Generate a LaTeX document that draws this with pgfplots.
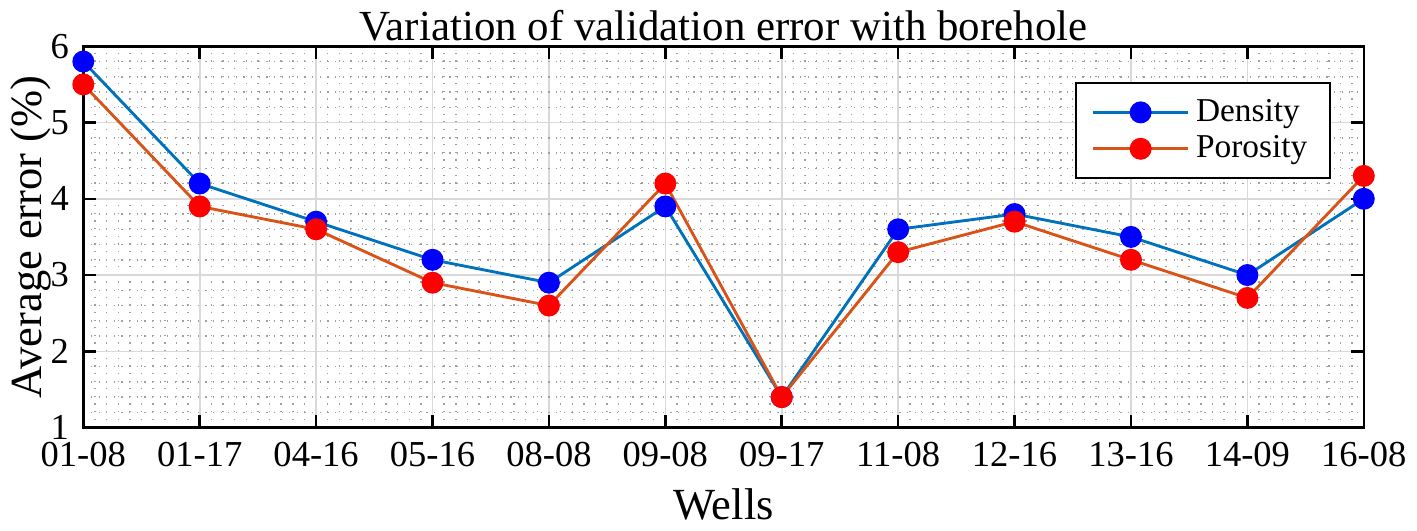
\documentclass[border=0pt]{standalone}
\usepackage{fontspec}
\setmainfont{Liberation Serif}
\usepackage{pgfplots}
\pgfplotsset{compat=1.18}

\definecolor{mblue}{rgb}{0,0.447,0.741}
\definecolor{morange}{rgb}{0.85,0.325,0.098}

\begin{document}
\begin{tikzpicture}
\begin{axis}[
    scale only axis,
    width=403pt, height=120pt,
    xmin=0, xmax=11, ymin=1, ymax=6,
    xtick={0,...,11},
    xticklabels={01-08,01-17,04-16,05-16,08-08,09-08,09-17,11-08,12-16,13-16,14-09,16-08},
    ytick={1,2,3,4,5,6},
    minor x tick num=9,
    minor y tick num=4,
    tick align=inside,
    tick pos=both,
    major tick length=4pt,
    minor tick length=0pt,
    axis line style={line width=0.8pt, black},
    every tick/.style={black, line width=0.8pt},
    grid=both,
    major grid style={gray!30, line width=0.5pt},
    minor grid style={gray!75, dotted, line width=0.45pt},
    tick label style={font=\fontsize{11.5}{12}\selectfont},
    xticklabel style={yshift=-1pt},
    yticklabel style={xshift=-1pt},
    /pgf/number format/assume math mode=true,
    title={Variation of validation error with borehole},
    title style={font=\fontsize{13.5}{14}\selectfont, yshift=-8pt},
    xlabel={Wells},
    ylabel={Average error (\%)},
    label style={font=\fontsize{14}{15}\selectfont},
    xlabel style={yshift=0pt},
    ylabel style={yshift=-7pt},
    legend style={at={(0.974,0.906)}, anchor=north east,
        font=\fontsize{10.5}{12}\selectfont, draw=black, line width=0.6pt,
        row sep=-1pt, inner xsep=5pt, inner ysep=3pt},
    legend image code/.code={
        \draw[#1, mark repeat=2, mark phase=2] plot coordinates {(0pt,0pt) (15pt,0pt) (30pt,0pt)};
    },
    legend cell align=left,
]
\addplot[mblue, line width=0.9pt, mark=*, mark size=3pt,
    mark options={fill=blue, draw=blue}] coordinates {
    (0,5.8) (1,4.2) (2,3.7) (3,3.2) (4,2.9) (5,3.9)
    (6,1.4) (7,3.6) (8,3.8) (9,3.5) (10,3.0) (11,4.0)
};
\addlegendentry{Density}
\addplot[morange, line width=0.9pt, mark=*, mark size=3pt,
    mark options={fill=red, draw=red}] coordinates {
    (0,5.5) (1,3.9) (2,3.6) (3,2.9) (4,2.6) (5,4.2)
    (6,1.4) (7,3.3) (8,3.7) (9,3.2) (10,2.7) (11,4.3)
};
\addlegendentry{Porosity}
\end{axis}
\end{tikzpicture}
\end{document}
